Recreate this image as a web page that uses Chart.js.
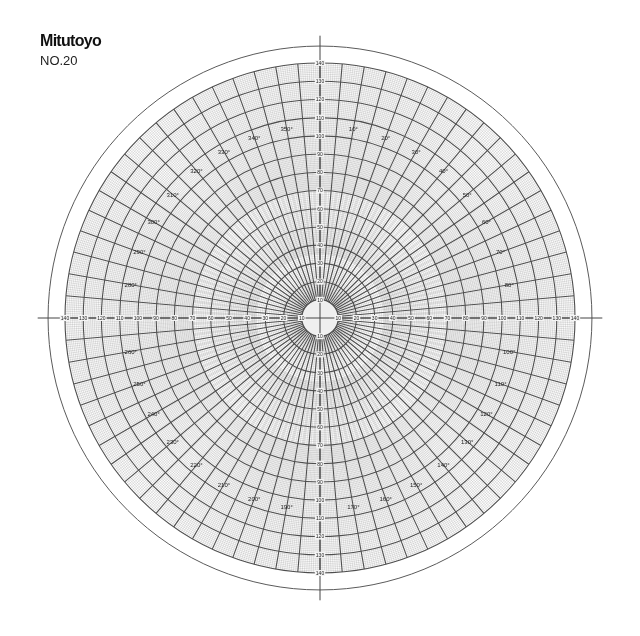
<!DOCTYPE html>
<html><head><meta charset="utf-8">
<script src="https://cdn.jsdelivr.net/npm/chart.js@4.4.0/dist/chart.umd.min.js"></script>
<style>
html,body{margin:0;padding:0;background:#fff;}
#wrap{position:relative;width:640px;height:636px;overflow:hidden;}
canvas{position:absolute;left:0;top:0;}
.brand{position:absolute;left:40px;top:32px;font:bold 16px "Liberation Sans",Arial,sans-serif;letter-spacing:-0.7px;color:#111;}
.model{position:absolute;left:40px;top:53px;font:13px "Liberation Sans",Arial,sans-serif;color:#222;}
</style></head><body>
<div id="wrap"><canvas id="c" width="640" height="636"></canvas>
<div class="brand">Mitutoyo</div><div class="model">NO.20</div></div>
<script>
// ---- chart content ----
const radialMax = 140;
const radialTickLabels = [10, 20, 30, 40, 50, 60, 70, 80, 90, 100, 110, 120, 130, 140];
const angleLabels = [10, 20, 30, 40, 50, 60, 70, 80,
                     100, 110, 120, 130, 140, 150, 160, 170,
                     190, 200, 210, 220, 230, 240, 250, 260,
                     280, 290, 300, 310, 320, 330, 340, 350];
const angleLabelRadius = 105.5;
const centerHoleValue = 10;
const outerRingValue = 149.3;
const axisExtentValue = 155;
const axisDirections = [0, 90, 180, 270];
// spokes every half degree (0, 0.5, 1, ... 359.5)
const spokeLabels = Array.from({length: 720}, (_, i) => i / 2);

const MAJOR = '#4e4e4e';
const FINE = 'rgba(0,0,0,0.18)';

const idxOf = deg => Math.round(deg * 2);

const fineSpokes = {
  id: 'fineSpokes',
  beforeDraw(chart) {
    const s = chart.scales.r, ctx = chart.ctx;
    ctx.save();
    ctx.strokeStyle = 'rgba(0,0,0,0.17)';
    ctx.lineWidth = 0.6;
    ctx.beginPath();
    for (let i = 0; i < spokeLabels.length; i++) {
      if (i % 10 === 0) continue;
      const start = (i % 5 === 0) ? 12 : (i % 2 === 0 ? 35 : 70);
      const a = s.getPointPositionForValue(i, start);
      const b = s.getPointPositionForValue(i, radialMax);
      ctx.moveTo(a.x, a.y); ctx.lineTo(b.x, b.y);
    }
    ctx.stroke();
    ctx.restore();
  }
};

const overlay = {
  id: 'overlay',
  afterDraw(chart) {
    const s = chart.scales.r, ctx = chart.ctx;
    const cx = s.xCenter, cy = s.yCenter;
    ctx.save();
    // centre hole
    const rh = s.getDistanceFromCenterForValue(centerHoleValue);
    ctx.beginPath(); ctx.arc(cx, cy, rh, 0, Math.PI * 2);
    ctx.fillStyle = '#efefef'; ctx.fill();
    ctx.strokeStyle = MAJOR; ctx.lineWidth = 1.1; ctx.stroke();
    // outer ring
    ctx.beginPath(); ctx.arc(cx, cy, s.getDistanceFromCenterForValue(outerRingValue), 0, Math.PI * 2);
    ctx.strokeStyle = '#5a5a5a'; ctx.lineWidth = 1; ctx.stroke();
    // cross axes
    ctx.strokeStyle = '#444'; ctx.lineWidth = 1;
    ctx.beginPath();
    let p = s.getPointPositionForValue(idxOf(0), axisExtentValue), q = s.getPointPositionForValue(idxOf(180), axisExtentValue);
    ctx.moveTo(p.x, p.y); ctx.lineTo(q.x, q.y);
    p = s.getPointPositionForValue(idxOf(90), axisExtentValue); q = s.getPointPositionForValue(idxOf(270), axisExtentValue);
    ctx.moveTo(p.x, p.y); ctx.lineTo(q.x, q.y);
    ctx.stroke();
    // axis value labels
    ctx.font = '5px "Liberation Sans", Arial, sans-serif';
    ctx.textAlign = 'center'; ctx.textBaseline = 'middle';
    axisDirections.forEach(d => {
      radialTickLabels.forEach(v => {
        const pt = s.getPointPositionForValue(idxOf(d), v);
        const t = String(v);
        const w = ctx.measureText(t).width + 2;
        ctx.fillStyle = '#f4f4f4';
        ctx.fillRect(pt.x - w / 2, pt.y - 3, w, 6);
        ctx.fillStyle = '#222';
        ctx.fillText(t, pt.x, pt.y + 0.5);
      });
    });
    // angle labels
    ctx.font = '6px "Liberation Sans", Arial, sans-serif';
    ctx.fillStyle = '#222';
    angleLabels.forEach(a => {
      const pt = s.getPointPositionForValue(idxOf(a), angleLabelRadius);
      ctx.fillText(a + '°', pt.x, pt.y + 0.5);
    });
    ctx.restore();
  }
};

new Chart(document.getElementById('c'), {
  type: 'radar',
  data: {
    labels: spokeLabels,
    datasets: [{ data: [], pointRadius: 0, borderWidth: 0, fill: false }]
  },
  options: {
    responsive: false,
    animation: false,
    events: [],
    layout: { padding: { left: 65, right: 65, top: 63, bottom: 63 } },
    plugins: { legend: { display: false }, tooltip: { enabled: false } },
    scales: {
      r: {
        min: 0, max: radialMax, startAngle: 0,
        ticks: { display: false, stepSize: 1, maxTicksLimit: 1000 },
        pointLabels: { display: false },
        grid: {
          circular: true,
          color: c => (c.tick && c.tick.value % 10 === 0) ? MAJOR : FINE,
          lineWidth: c => (c.tick && c.tick.value % 10 === 0) ? 1.1 : 0.6
        },
        angleLines: {
          color: c => c.index % 10 === 0 ? MAJOR : 'rgba(0,0,0,0)',
          lineWidth: c => c.index % 10 === 0 ? 1.1 : 0
        }
      }
    }
  },
  plugins: [fineSpokes, overlay]
});
</script>
</body></html>
